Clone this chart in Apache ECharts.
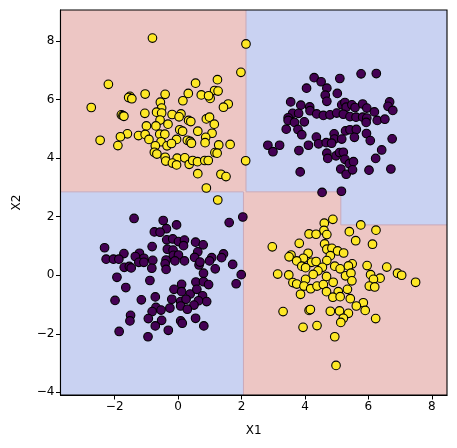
<!DOCTYPE html>
<html><head><meta charset="utf-8">
<script src="https://cdn.jsdelivr.net/npm/echarts@6/dist/echarts.min.js"></script>
<style>html,body{margin:0;padding:0;background:#fff}#c{width:457px;height:448px}</style>
</head><body><div id="c"></div>
<script>
const xTicks = [-2,0,2,4,6,8];
const yTicks = [-4,-2,0,2,4,6,8];
const xRange = [-3.71,8.48];
const yRange = [-4.09,9.06];
// decision regions: [x0,x1,y0,y1] (same-class rectangles overlap slightly so no seam shows)
const redRegions = [[-3.71,2.14,2.85,9.06],[2.06,8.48,-4.09,1.72],[2.06,5.13,1.5,2.85]];
const blueRegions = [[-3.71,2.06,-4.09,2.85],[2.14,8.48,2.85,9.06],[5.13,8.48,1.72,3.1]];
// boundaries between regions: [x0,y0,x1,y1]
const boundaries = [[-3.71,2.85,2.06,2.85],[2.06,2.85,2.06,-4.09],[2.14,9.06,2.14,2.85],[2.14,2.85,5.13,2.85],[5.13,2.85,5.13,1.72],[5.13,1.72,8.48,1.72]];
const yellowTopLeft = [[-0.81,8.10],[2.14,7.90],[1.98,6.93],[-2.20,6.52],[0.55,6.56],[1.24,6.68],[-2.74,5.73],[-1.52,6.11],[-1.56,6.07],[-1.46,6.03],[-1.04,6.19],[-0.41,6.18],[0.32,6.21],[0.73,6.16],[1.15,6.31],[1.26,6.29],[1.01,6.04],[0.96,6.13],[0.15,5.96],[-0.56,5.91],[-0.52,5.71],[-0.68,5.57],[-0.52,5.54],[1.58,5.85],[1.43,5.74],[-1.05,5.53],[-0.19,5.49],[0.09,5.51],[0.03,5.41],[-1.79,5.48],[-1.74,5.45],[-1.71,5.43],[-0.57,5.30],[0.33,5.29],[0.40,5.25],[0.89,5.34],[0.99,5.40],[-1.00,5.10],[-0.70,5.10],[-0.32,5.16],[1.14,5.16],[0.05,4.97],[0.14,4.92],[0.62,4.92],[1.07,4.85],[-1.60,4.83],[-1.82,4.73],[-1.25,4.77],[-2.46,4.61],[-1.04,4.81],[-0.58,4.82],[-0.42,4.82],[-0.92,4.64],[-0.54,4.56],[-0.05,4.64],[0.29,4.61],[0.38,4.57],[0.42,4.51],[0.87,4.71],[0.85,4.53],[-1.90,4.43],[-0.72,4.42],[-0.35,4.42],[-0.21,4.50],[1.28,4.45],[1.64,4.47],[-0.75,4.20],[-0.67,4.14],[-0.41,4.03],[-0.03,4.00],[0.21,4.01],[1.16,4.19],[1.23,4.17],[-0.39,3.90],[-0.18,3.83],[-0.05,3.77],[0.35,3.79],[0.46,3.92],[0.61,3.88],[0.84,3.92],[0.95,3.92],[2.13,3.91],[0.62,3.47],[1.35,3.45],[1.51,3.37],[0.89,2.98],[1.25,2.57]];
const purpleTopRight = [[5.77,6.88],[6.25,6.89],[4.29,6.75],[4.51,6.61],[5.10,6.72],[4.05,6.39],[4.69,6.39],[5.02,6.21],[4.64,6.15],[4.69,5.94],[3.55,5.92],[3.87,5.81],[4.15,5.75],[4.16,5.62],[3.61,5.53],[3.80,5.53],[3.47,5.38],[3.47,5.29],[3.67,5.22],[3.98,5.24],[3.41,4.99],[3.78,4.98],[3.90,4.80],[4.37,5.51],[4.58,5.46],[4.79,5.48],[5.00,5.54],[5.16,5.82],[5.26,5.90],[5.30,5.74],[5.48,5.82],[5.58,5.73],[5.21,5.50],[5.42,5.42],[5.61,5.40],[5.82,5.85],[5.95,5.71],[5.82,5.40],[5.95,5.37],[5.93,5.22],[6.19,5.58],[6.28,5.29],[6.52,5.33],[6.67,5.92],[6.62,5.77],[6.77,5.63],[5.28,4.93],[5.42,4.97],[5.62,4.98],[4.92,4.83],[4.36,4.72],[4.93,4.65],[5.16,4.65],[5.56,4.71],[5.94,4.84],[6.06,4.60],[6.75,4.66],[2.83,4.44],[3.20,4.44],[2.99,4.22],[4.11,4.44],[3.81,4.26],[4.43,4.49],[4.67,4.53],[4.84,4.51],[4.69,4.17],[4.72,3.99],[4.98,4.08],[5.09,4.19],[5.21,4.20],[5.26,3.96],[5.40,3.81],[5.53,3.88],[6.42,4.28],[6.23,3.99],[3.85,3.53],[5.13,3.63],[5.30,3.45],[5.50,3.60],[6.02,3.59],[6.71,3.63],[4.54,2.83],[5.15,2.87]];
const purpleBottomLeft = [[-1.39,1.94],[-0.47,1.87],[-0.05,1.72],[-0.37,1.59],[-0.75,1.48],[-0.57,1.47],[1.61,1.80],[2.04,1.99],[-2.32,0.94],[-0.82,0.98],[-0.36,1.21],[-0.17,1.24],[0.01,1.15],[0.20,1.20],[0.17,1.01],[0.55,1.13],[0.79,1.04],[-0.34,0.89],[-0.16,0.86],[0.62,0.80],[-1.71,0.74],[-1.22,0.75],[-2.27,0.55],[-2.04,0.55],[-1.87,0.55],[-1.35,0.64],[-1.08,0.58],[-0.80,0.51],[-0.38,0.52],[-0.15,0.68],[0.01,0.69],[-0.10,0.49],[0.20,0.49],[0.52,0.61],[1.06,0.60],[0.99,0.49],[1.43,0.73],[1.37,0.60],[-1.24,0.44],[-1.08,0.44],[-1.70,0.27],[-1.54,0.30],[-1.48,0.25],[-0.83,0.24],[-0.41,0.39],[-0.38,0.20],[0.66,0.35],[0.69,0.45],[1.17,0.22],[1.72,0.37],[0.80,0.07],[1.99,0.02],[-1.93,-0.07],[-0.89,-0.18],[0.56,-0.23],[0.80,-0.22],[0.96,-0.32],[1.83,-0.29],[-1.65,-0.42],[0.11,-0.31],[-0.13,-0.48],[0.11,-0.56],[0.38,-0.64],[0.59,-0.48],[0.77,-0.70],[-1.99,-0.86],[-1.16,-0.84],[-0.72,-0.74],[-0.20,-0.82],[0.08,-0.90],[0.25,-0.82],[0.90,-0.90],[0.64,-0.87],[0.50,-1.02],[0.08,-1.05],[0.29,-1.16],[-0.26,-1.12],[-0.70,-1.10],[-0.54,-1.19],[-0.82,-1.24],[-1.50,-1.37],[-1.52,-1.56],[-0.94,-1.48],[-0.52,-1.54],[0.08,-1.56],[0.13,-1.64],[0.55,-1.47],[-0.72,-1.73],[-0.31,-1.88],[0.81,-1.73],[-1.86,-1.92],[-0.95,-2.10]];
const yellowBottomRight = [[4.88,1.91],[4.61,1.78],[5.76,1.72],[4.60,1.53],[5.40,1.49],[6.24,1.54],[4.13,1.41],[4.35,1.40],[4.69,1.39],[5.60,1.18],[3.82,1.09],[4.62,1.07],[6.13,1.06],[2.97,0.97],[4.69,0.89],[4.85,0.92],[5.03,0.83],[5.22,0.76],[4.10,0.75],[3.56,0.69],[3.50,0.63],[4.80,0.67],[3.95,0.58],[3.74,0.49],[4.69,0.50],[4.21,0.44],[4.35,0.47],[3.90,0.31],[4.02,0.26],[4.55,0.27],[4.94,0.31],[5.11,0.22],[5.49,0.39],[5.37,0.32],[5.96,0.33],[6.58,0.28],[4.41,0.15],[6.92,0.07],[7.05,0.00],[3.14,0.04],[3.49,0.01],[4.26,0.03],[4.68,-0.04],[5.28,-0.02],[5.45,0.07],[6.07,0.02],[6.37,-0.10],[6.16,-0.14],[4.02,-0.14],[3.62,-0.25],[3.74,-0.30],[3.97,-0.37],[4.18,-0.46],[4.38,-0.37],[4.58,-0.32],[4.89,-0.24],[5.48,-0.19],[6.03,-0.37],[6.20,-0.40],[7.49,-0.24],[5.34,-0.48],[4.68,-0.56],[5.05,-0.56],[3.86,-0.65],[4.88,-0.75],[5.11,-0.73],[5.43,-0.80],[5.84,-0.94],[5.62,-1.05],[5.90,-1.20],[4.13,-1.20],[4.17,-1.17],[3.31,-1.24],[4.80,-1.23],[5.09,-1.22],[5.37,-1.30],[6.23,-1.48],[5.21,-1.47],[5.13,-1.61],[3.94,-1.78],[4.38,-1.72],[4.94,-2.10],[4.98,-3.08]];

const RED='#edc6c4', BLUE='#c9d2f2', EDGE='#c9a8b8';
const YEL='#fde725', PUR='#440154';
const font='"DejaVu Sans"';

function rectItem(color){
  return function(params,api){
    const a=api.coord([api.value(0),api.value(3)]);
    const b=api.coord([api.value(1),api.value(2)]);
    return {type:'rect',shape:{x:a[0],y:a[1],width:b[0]-a[0],height:b[1]-a[1]},
      style:{fill:color,stroke:null}};
  };
}
function lineItem(params,api){
  const a=api.coord([api.value(0),api.value(1)]);
  const b=api.coord([api.value(2),api.value(3)]);
  return {type:'line',shape:{x1:a[0],y1:a[1],x2:b[0],y2:b[1]},style:{stroke:EDGE,lineWidth:1,fill:null}};
}
function pts(data,color){
  return {type:'scatter',data,symbol:'circle',symbolSize:8.6,z:5,animation:false,silent:true,
    itemStyle:{color,borderColor:'#000',borderWidth:1.1,opacity:1},clip:false};
}
function axis(name,range,ticks,gap,labelPadding){
  return {type:'value',name,nameLocation:'middle',nameGap:gap,
    nameTextStyle:{color:'#000',fontFamily:font,fontSize:12},
    min:range[0],max:range[1],splitLine:{show:false},
    axisLine:{show:true,onZero:false,lineStyle:{color:'#000',width:1.1}},
    axisTick:{show:true,length:4.5,lineStyle:{color:'#000',width:1},customValues:ticks},
    axisLabel:{color:'#000',fontFamily:font,fontSize:12,margin:6,padding:labelPadding,customValues:ticks,
      formatter:v=>String(v).replace('-','\u2212')}};
}
const chart=echarts.init(document.getElementById('c'),null,{renderer:'canvas'});
chart.setOption({
  animation:false,backgroundColor:'#fff',
  grid:{left:60.5,top:10,width:386.5,height:385,containLabel:false,show:false},
  xAxis:Object.assign(axis('X1',xRange,xTicks,30,[0,0,0,0]),{position:'bottom'}),
  yAxis:Object.assign(axis('X2',yRange,yTicks,38,[3,0,0,0]),{position:'left'}),
  series:[
    {type:'custom',data:redRegions,renderItem:rectItem(RED),z:1,clip:true,silent:true,encode:{x:[0,1],y:[2,3]}},
    {type:'custom',data:blueRegions,renderItem:rectItem(BLUE),z:1,clip:true,silent:true,encode:{x:[0,1],y:[2,3]}},
    {type:'custom',data:boundaries,renderItem:lineItem,z:2,clip:true,silent:true,encode:{x:[0,2],y:[1,3]}},
    pts(yellowTopLeft,YEL),
    pts(purpleTopRight,PUR),
    pts(purpleBottomLeft,PUR),
    pts(yellowBottomRight,YEL)
  ],
  graphic:[{type:'rect',z:100,silent:true,shape:{x:60.5,y:10,width:386.5,height:385},
    style:{fill:null,stroke:'#000',lineWidth:1.1}}]
});
</script></body></html>
